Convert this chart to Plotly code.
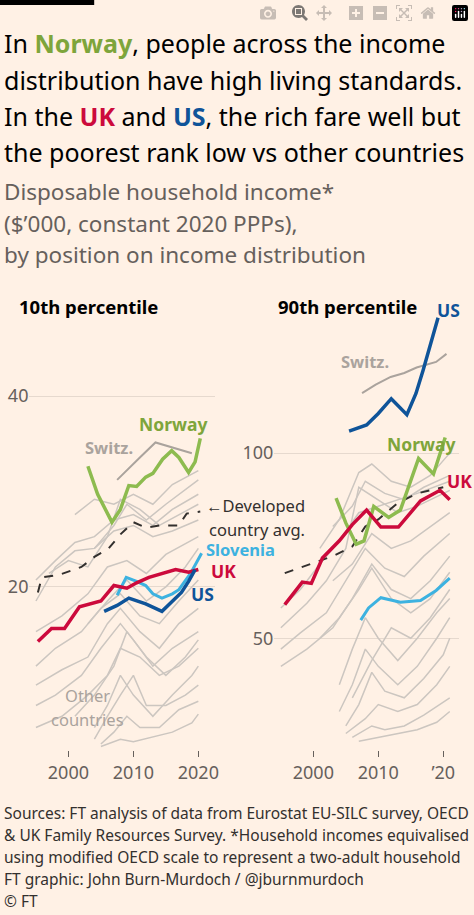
import math
import plotly.graph_objects as go

# ---------- data ----------
# 10th percentile ($'000)
p10_norway_x = [2003, 2004.5, 2006.7, 2008, 2009.3, 2010.5, 2011.9, 2013, 2014.5, 2015.9, 2017, 2018.5, 2019.5, 2020.3]
p10_norway_y = [31.0, 28.0, 25.3, 26.5, 28.9, 28.8, 29.8, 30.2, 31.8, 32.8, 32.0, 30.3, 31.5, 34.3]
p10_switz_x = [2007.5, 2009, 2011, 2013.4, 2015, 2017, 2019]
p10_switz_y = [29.5, 30.5, 32.0, 33.8, 33.4, 33.0, 32.5]
p10_dev_x = [1995.3, 1995.9, 1998.6, 2002, 2004, 2006.2, 2008, 2010, 2011.9, 2014, 2017, 2018.2, 2020.3]
p10_dev_y = [19.6, 20.7, 20.9, 21.5, 22.3, 23.0, 24.2, 25.3, 24.8, 25.0, 25.0, 26.1, 26.3]
p10_uk_x = [1995.3, 1997.4, 1999.4, 2001.7, 2005, 2007, 2009, 2010.5, 2012.4, 2014.5, 2016.5, 2018.5, 2020]
p10_uk_y = [16.4, 17.2, 17.2, 18.6, 19.0, 20.1, 19.9, 20.3, 20.7, 21.0, 21.3, 21.1, 21.3]
p10_us_x = [2005.5, 2007.5, 2009.3, 2011.9, 2014.4, 2016, 2017.4, 2018.5, 2019.5]
p10_us_y = [18.3, 18.7, 19.2, 18.8, 18.3, 19.0, 19.6, 20.4, 21.3]
p10_slo_x = [2007.5, 2008.9, 2010.5, 2011.9, 2013, 2014.4, 2016, 2017, 2018.8, 2020.5]
p10_slo_y = [19.4, 20.7, 20.4, 20.1, 19.5, 19.2, 19.5, 19.8, 21.0, 22.6]

# 90th percentile ($'000)
p90_us_x = [2005.5, 2008.2, 2010, 2012, 2014.4, 2015.8, 2016.9, 2018, 2019.2]
p90_us_y = [108.6, 111.1, 116.0, 122.6, 115.5, 125.0, 136.4, 150.0, 166.0]
p90_switz_x = [2007.5, 2009.6, 2011.9, 2014, 2015.9, 2018.9, 2020.5]
p90_switz_y = [125.2, 129.2, 133.0, 135.0, 137.8, 140.7, 145.0]
p90_norway_x = [2003.5, 2005, 2006.6, 2007.8, 2009.3, 2011.6, 2013.4, 2015, 2016.2, 2018.5, 2020.3]
p90_norway_y = [84.5, 77.0, 71.1, 72.0, 81.9, 78.6, 80.8, 90.0, 98.0, 92.5, 106.0]
p90_uk_x = [1995.6, 1998.3, 1999.7, 2001.4, 2004, 2006, 2008.2, 2010.4, 2013.1, 2016.5, 2019.5, 2021]
p90_uk_y = [56.7, 61.7, 61.4, 67.5, 72.0, 76.5, 80.8, 75.8, 75.8, 83.6, 87.0, 84.0]
p90_dev_x = [1995.6, 2000.2, 2003, 2006, 2008, 2010, 2013, 2016, 2020]
p90_dev_y = [63.8, 66.3, 68.0, 70.5, 76.0, 78.0, 83.0, 86.0, 88.0]
p90_slo_x = [2007.3, 2008.5, 2010.4, 2013.4, 2016.5, 2018.9, 2021]
p90_slo_y = [53.5, 56.0, 58.2, 57.2, 57.6, 59.8, 62.6]

# other countries (grey), 10th percentile
p10_other = [
    ([1995, 1998, 2001, 2004, 2007, 2010, 2013, 2016, 2020], [20.5, 22.0, 23.5, 24.0, 25.5, 26.0, 25.0, 26.5, 28.0]),
    ([1995, 1998, 2001, 2004, 2007, 2009, 2012, 2015, 2020], [19.0, 21.5, 22.8, 23.0, 25.0, 27.0, 25.5, 27.0, 29.5]),
    ([1997, 2000, 2003, 2006, 2008, 2011, 2014, 2017, 2020], [21.0, 22.0, 21.5, 24.0, 27.5, 26.5, 25.0, 26.0, 27.0]),
    ([2001, 2004, 2007, 2010, 2013, 2016, 2020], [26.0, 27.5, 27.0, 28.0, 27.0, 29.0, 30.5]),
    ([1995, 1999, 2003, 2006, 2009, 2012, 2015, 2020], [17.0, 18.0, 19.5, 21.5, 22.0, 21.0, 22.5, 24.0]),
    ([1995, 1998, 2002, 2005, 2008, 2011, 2014, 2017, 2020], [15.0, 16.0, 17.0, 18.5, 19.5, 18.0, 17.5, 19.0, 20.5]),
    ([1995, 1999, 2003, 2006, 2008, 2011, 2014, 2017, 2020], [14.0, 14.8, 15.5, 17.5, 18.5, 17.0, 16.0, 17.5, 18.5]),
    ([1995, 1998, 2002, 2005, 2008, 2010, 2013, 2016, 2020], [13.0, 13.5, 14.5, 16.0, 17.5, 16.5, 15.0, 16.0, 17.0]),
    ([1995, 1999, 2003, 2006, 2008, 2011, 2014, 2017, 2020], [12.0, 12.5, 13.5, 14.5, 16.0, 15.5, 14.5, 15.0, 16.0]),
    ([2001, 2004, 2007, 2009, 2012, 2015, 2018, 2020], [12.5, 13.5, 15.0, 17.0, 15.5, 14.5, 15.5, 16.5]),
    ([2004, 2006, 2008, 2010, 2013, 2016, 2019, 2020], [12.0, 13.0, 14.5, 13.5, 12.5, 13.5, 14.5, 15.0]),
    ([2004, 2006, 2008, 2010, 2012, 2015, 2018, 2020], [11.5, 12.5, 13.5, 14.5, 13.0, 13.0, 13.5, 14.0]),
    ([2005, 2007, 2009, 2011, 2014, 2017, 2020], [11.3, 11.8, 12.5, 12.0, 12.0, 12.8, 13.2]),
    ([2005, 2008, 2010, 2013, 2016, 2019, 2020], [11.2, 11.5, 11.4, 11.6, 11.8, 12.2, 12.6]),
    ([2004, 2007, 2010, 2013, 2016, 2020], [23.0, 24.5, 25.0, 24.0, 24.5, 25.5]),
    ([2003, 2006, 2009, 2012, 2015, 2018, 2020], [17.5, 19.0, 20.5, 19.0, 20.0, 21.5, 23.0]),
]

# other countries (grey), 90th percentile
p90_other = [
    ([1995, 1998, 2001, 2004, 2007, 2010, 2013, 2016, 2021], [56.0, 60.0, 66.0, 72.0, 80.0, 82.0, 84.0, 86.0, 90.0]),
    ([1995, 1999, 2002, 2005, 2007, 2010, 2013, 2016, 2021], [52.0, 57.0, 62.0, 70.0, 88.0, 84.0, 80.0, 82.0, 87.0]),
    ([2001, 2004, 2007, 2009, 2012, 2015, 2018, 2021], [70.0, 78.0, 93.0, 96.0, 90.0, 88.0, 92.0, 100.0]),
    ([2003, 2006, 2008, 2011, 2014, 2017, 2021], [76.0, 82.0, 90.0, 86.0, 84.0, 88.0, 92.0]),
    ([1995, 1998, 2002, 2005, 2008, 2011, 2014, 2017, 2021], [48.0, 51.0, 55.0, 62.0, 70.0, 65.0, 63.0, 68.0, 74.0]),
    ([1995, 1999, 2003, 2006, 2009, 2012, 2015, 2018, 2021], [45.0, 48.0, 52.0, 58.0, 66.0, 60.0, 58.0, 62.0, 68.0]),
    ([2001, 2004, 2007, 2009, 2012, 2015, 2018, 2021], [50.0, 54.0, 60.0, 65.0, 58.0, 55.0, 58.0, 64.0]),
    ([2004, 2006, 2008, 2010, 2013, 2016, 2019, 2021], [42.0, 48.0, 54.0, 50.0, 46.0, 50.0, 55.0, 58.0]),
    ([2004, 2006, 2008, 2010, 2013, 2016, 2019, 2021], [38.0, 42.0, 48.0, 45.0, 42.0, 45.0, 50.0, 54.0]),
    ([2005, 2007, 2009, 2011, 2014, 2017, 2020, 2021], [36.0, 39.0, 44.0, 41.0, 40.0, 43.0, 47.0, 50.0]),
    ([2005, 2008, 2010, 2013, 2016, 2019, 2021], [35.0, 37.0, 39.0, 38.0, 39.0, 42.0, 45.0]),
    ([2006, 2009, 2011, 2014, 2017, 2021], [34.5, 36.0, 35.5, 36.0, 37.5, 40.0]),
    ([2007, 2010, 2013, 2016, 2019, 2021], [34.0, 34.5, 35.0, 35.5, 36.5, 38.0]),
    ([2003, 2006, 2009, 2012, 2015, 2018, 2021], [62.0, 66.0, 74.0, 70.0, 72.0, 76.0, 80.0]),
    ([2006, 2009, 2012, 2015, 2018, 2021], [40.0, 46.0, 52.0, 50.0, 54.0, 60.0]),
]

x_tickvals = [2000, 2010, 2020]
x_ticktext_left = ["2000", "2010", "2020"]
x_ticktext_right = ["2000", "2010", "\u201920"]
y_ticks_left = [20, 40]
y_ticks_right = [50, 100]

# ---------- styles ----------
BG = "#FFF1E5"
GREY = "#ccc6c0"
SWITZ = "#aaa39d"
GREEN = "#8dbb4f"
GREEN_T = "#7ea53b"
RED = "#cc0a3c"
BLUE = "#0f5499"
LBLUE = "#3db2e0"
FONT = "Noto Sans"

W, H = 474, 915
def px(xp): return xp / W
def py(yp): return 1 - yp / H

fig = go.Figure()

def line(x, y, color, width, xa, ya, dash=None):
    fig.add_trace(go.Scatter(x=x, y=y, mode="lines", xaxis=xa, yaxis=ya,
                             line=dict(color=color, width=width, dash=dash),
                             hoverinfo="skip", showlegend=False))

for xs, ys in p10_other:
    line(xs, ys, GREY, 1.5, "x", "y")
for xs, ys in p90_other:
    line(xs, ys, GREY, 1.5, "x2", "y2")

line(p10_switz_x, p10_switz_y, SWITZ, 2, "x", "y")
line(p10_dev_x, p10_dev_y, "#33302e", 2, "x", "y", "dash")
line(p10_slo_x, p10_slo_y, LBLUE, 3, "x", "y")
line(p10_norway_x, p10_norway_y, GREEN, 3.5, "x", "y")
line(p10_uk_x, p10_uk_y, RED, 3.5, "x", "y")
line(p10_us_x, p10_us_y, BLUE, 3.5, "x", "y")

line(p90_switz_x, p90_switz_y, SWITZ, 2, "x2", "y2")
line(p90_dev_x, p90_dev_y, "#33302e", 2, "x2", "y2", "dash")
line(p90_slo_x, p90_slo_y, LBLUE, 3, "x2", "y2")
line(p90_norway_x, p90_norway_y, GREEN, 3.5, "x2", "y2")
line(p90_uk_x, p90_uk_y, RED, 3.5, "x2", "y2")
line(p90_us_x, p90_us_y, BLUE, 3.5, "x2", "y2")

ydom = [py(750), py(300)]
axis_font = dict(family=FONT, size=18, color="#66605c")
fig.update_layout(
    width=W, height=H, margin=dict(l=0, r=0, t=0, b=0),
    paper_bgcolor=BG, plot_bgcolor=BG, showlegend=False,
    xaxis=dict(domain=[px(29.7), px(216.4)], range=[1994, 2022.5],
               tickvals=x_tickvals, ticktext=x_ticktext_left, ticks="outside",
               ticklen=6, tickcolor="#66605c", showgrid=False, zeroline=False,
               showline=False, tickfont=axis_font),
    yaxis=dict(domain=ydom, type="log", range=[1.0437, 1.7536],
               tickvals=y_ticks_left, ticktext=[str(v) for v in y_ticks_left],
               gridcolor="#e6d9ce", zeroline=False, tickfont=axis_font, ticks=""),
    xaxis2=dict(domain=[px(276.7), px(463.4)], range=[1994, 2022.5], anchor="y2",
                tickvals=x_tickvals, ticktext=x_ticktext_right, ticks="outside",
                ticklen=6, tickcolor="#66605c", showgrid=False, zeroline=False,
                showline=False, tickfont=axis_font),
    yaxis2=dict(domain=ydom, type="log", range=[1.5172, 2.2490], anchor="x2",
                tickvals=y_ticks_right, ticktext=[str(v) for v in y_ticks_right],
                gridcolor="#e6d9ce", zeroline=False, tickfont=axis_font, ticks=""),
)

ann = []
def t(x, y, text, size, color="#000", xanchor="left", yanchor="middle"):
    ann.append(dict(x=x, y=y, xref="paper", yref="paper", text=text, showarrow=False,
                    xanchor=xanchor, yanchor=yanchor,
                    font=dict(family=FONT, size=size, color=color)))

G = lambda s: f"<b><span style='color:{GREEN_T}'>{s}</span></b>"
R = lambda s: f"<b><span style='color:{RED}'>{s}</span></b>"
B = lambda s: f"<b><span style='color:{BLUE}'>{s}</span></b>"
title_lines = [
    f"In {G('Norway')}, people across the income",
    "distribution have high living standards.",
    f"In the {R('UK')} and {B('US')}, the rich fare well but",
    "the poorest rank low vs other countries",
]
for i, s in enumerate(title_lines):
    t(px(2), py(43 + 36.5 * i), s, 25, "#000")
sub_lines = ["Disposable household income*", "($\u2019000, constant 2020 PPPs),",
             "by position on income distribution"]
for i, s in enumerate(sub_lines):
    t(px(2), py(191 + 32 * i), s, 22.5, "#66605c")

t(px(17), py(306), "<b>10th percentile</b>", 18.5)
t(px(278), py(306), "<b>90th percentile</b>", 18.5)

src = ["Sources: FT analysis of data from Eurostat EU-SILC survey, OECD",
       "& UK Family Resources Survey. *Household incomes equivalised",
       "using modified OECD scale to represent a two-adult household",
       "FT graphic: John Burn-Murdoch / @jburnmurdoch",
       "\u00a9 FT"]
for i, s in enumerate(src):
    t(px(2), py(813 + 22 * i), s, 15.5, "#33302e")

# in-chart labels (data coordinates; log axes need log10)
def d(x, y, text, color, xa="x", ya="y", size=17.5, bold=True, xanchor="left"):
    ann.append(dict(x=x, y=math.log10(y), xref=xa, yref=ya,
                    text=f"<b>{text}</b>" if bold else text,
                    showarrow=False, xanchor=xanchor, yanchor="middle",
                    font=dict(family=FONT, size=size, color=color)))

d(2010.5, 36.2, "Norway", GREEN_T)
d(2010.3, 33.2, "Switz.", SWITZ, size=16.5, xanchor="right")
d(2020.8, 26.9, "\u2190Developed", "#33302e", bold=False, size=16.5)
d(2021.3, 24.6, "country avg.", "#33302e", bold=False, size=16.5)
d(2020.8, 22.9, "Slovenia", LBLUE, size=16.5)
d(2021.6, 21.2, "UK", RED)
d(2018.6, 19.5, "US", BLUE)
d(2003, 13.5, "Other", "#aaa39d", bold=False, size=16.5, xanchor="center")
d(2003, 12.35, "countries", "#aaa39d", bold=False, size=16.5, xanchor="center")

d(2020.8, 171, "US", BLUE, "x2", "y2", xanchor="center")
d(2012.0, 141, "Switz.", SWITZ, "x2", "y2", size=16.5, xanchor="right")
d(2011.0, 103.5, "Norway", GREEN_T, "x2", "y2")
d(2020.3, 90, "UK", RED, "x2", "y2")

fig.update_layout(annotations=ann,
                  shapes=[dict(type="rect", xref="paper", yref="paper", x0=0, x1=px(95),
                               y0=py(5), y1=1, fillcolor="#000", line=dict(width=0))])
fig.write_html("out.html",
               post_script="document.body.style.margin='0';document.body.style.background='#FFF1E5';")
